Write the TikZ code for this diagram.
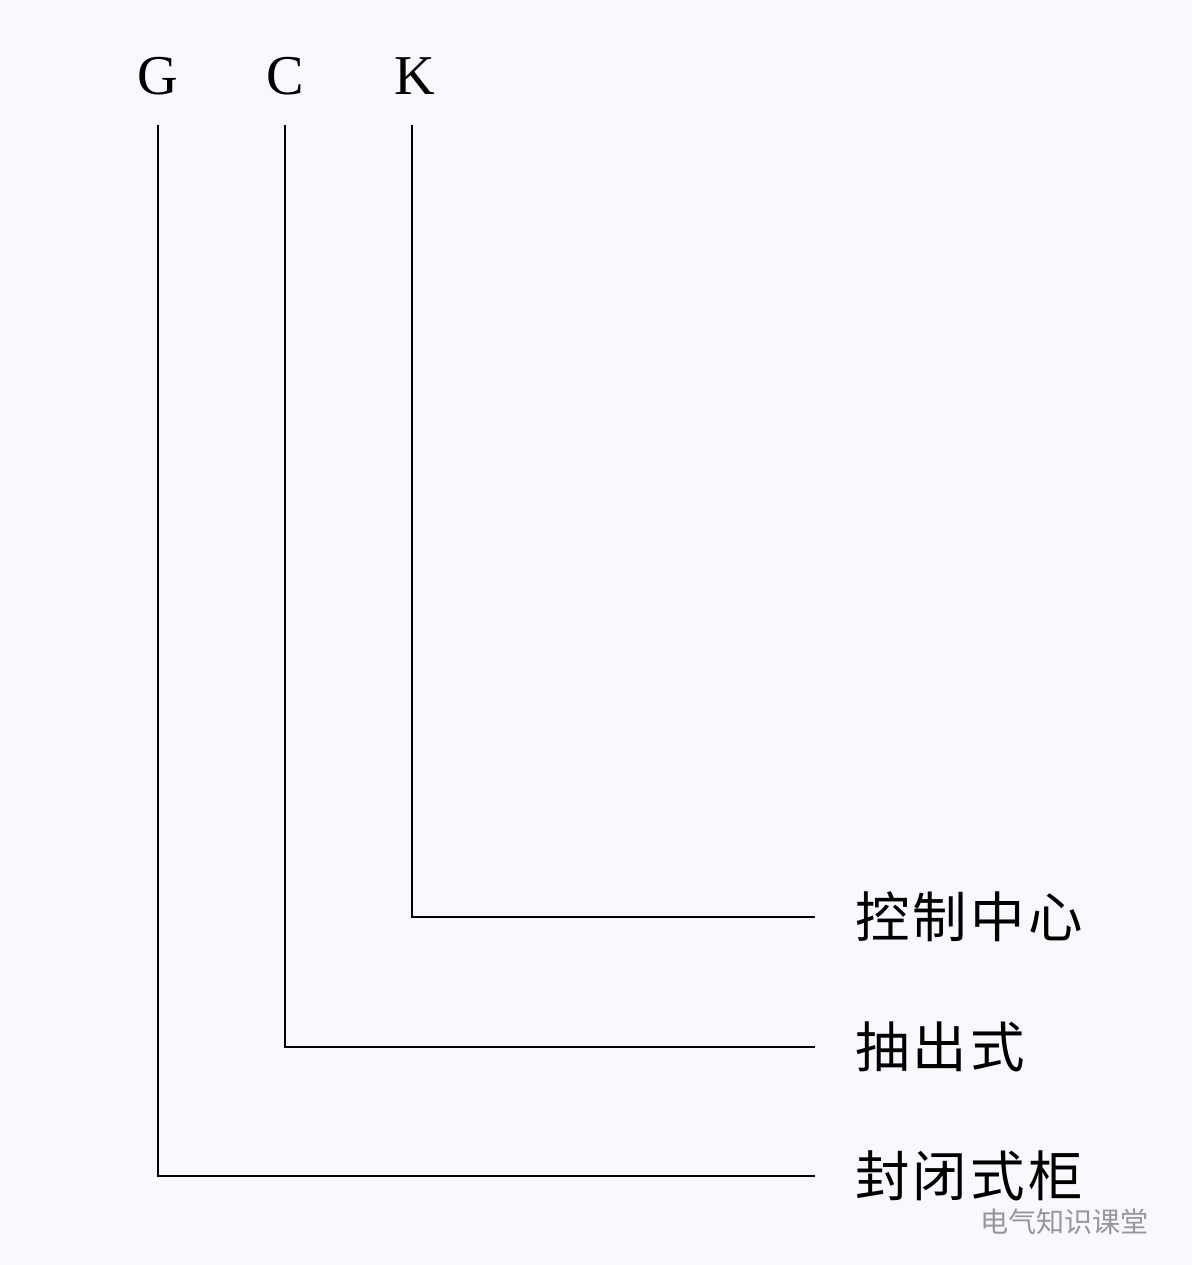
\documentclass[tikz,border=0pt]{standalone}
\usepackage{fontspec}
\setmainfont{Liberation Serif}
\newfontfamily\cjk{Noto Sans CJK SC}
\newfontfamily\cjkwide[LetterSpace=6]{Noto Sans CJK SC}
\definecolor{paper}{RGB}{247,249,253}
\definecolor{mark}{RGB}{150,150,155}
\begin{document}
\begin{tikzpicture}[x=0.02cm,y=-0.02cm,
                    wire/.style = {line width=1.5pt,black},
                    letter/.style = {font=\fontsize{32}{32}\selectfont,inner sep=0pt},
                    meaning/.style = {font=\cjkwide\fontsize{31}{31}\selectfont,anchor=west,inner xsep=22.7pt,inner ysep=0pt}]
                    \fill[paper] (0,0) rectangle (1192,1265);
                    \useasboundingbox (0,0) rectangle (1192,1265);

                    \node[letter] (g) at (158,76) {G};
                    \node[letter] (c) at (285,76) {C};
                    \node[letter] (k) at (415,76) {K};

                    \coordinate (gtop) at (158,125);
                    \coordinate (ctop) at (285,125);
                    \coordinate (ktop) at (412,125);

                    \node[meaning] (control) at (815,917) {控制中心};
                    \node[meaning] (drawout) at (815,1047) {抽出式};
                    \node[meaning] (closed) at (815,1176) {封闭式柜};

                    \draw[wire] (ktop) |- (control.west);
                    \draw[wire] (ctop) |- (drawout.west);
                    \draw[wire] (gtop) |- (closed.west);

                    \node[font=\cjk\fontsize{16}{16}\selectfont,text=mark,anchor=west,inner sep=0pt] (sign) at (980,1222) {电气知识课堂};
                \end{tikzpicture}
\end{document}
